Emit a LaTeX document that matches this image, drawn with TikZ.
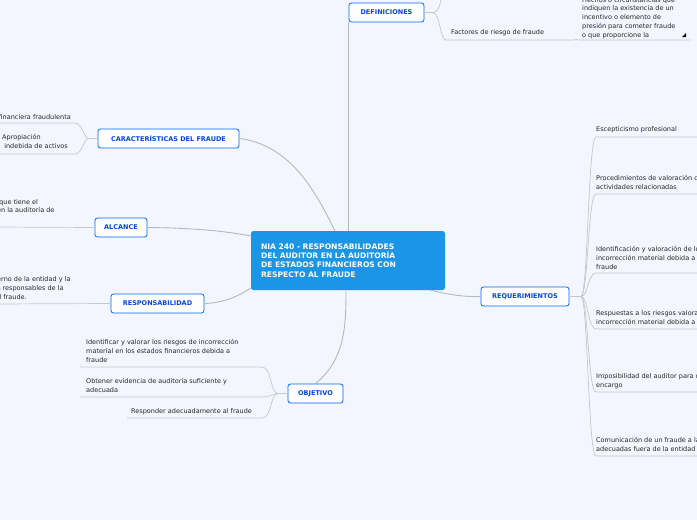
\documentclass[tikz,border=0pt]{standalone}
\usepackage{fontspec}
\setmainfont{DejaVu Sans}
\begin{document}
\begin{tikzpicture}[x=1pt,y=-1pt,
  leaf/.style={font=\fontsize{6.5}{8.8}\selectfont, align=left, inner sep=0pt, anchor=north west, text=black!85},
  br/.style={draw=blue!60!cyan, fill=white, rounded corners=2.5pt, line width=0.8pt, font=\bfseries\fontsize{6.5}{7}\selectfont, text=blue!70!cyan!90!black, inner sep=0pt, minimum height=19pt},
  ln/.style={draw=black!22, line width=0.7pt},
  con/.style={draw=black!28, line width=0.9pt}]
\definecolor{bg}{HTML}{F3F6FE}
\definecolor{cen}{HTML}{1B95E5}
\fill[bg] (0,0) rectangle (697,520);
\clip (0,0) rectangle (697,520);
% central
\node[fill=cen, rounded corners=2.5pt, minimum width=194pt, minimum height=59pt, inner sep=0pt, text=white, font=\bfseries\fontsize{7.6}{9.4}\selectfont, align=left, text width=174pt] (c) at (348,260.5) {NIA 240 - RESPONSABILIDADES\\DEL AUDITOR EN LA AUDITORÍA\\DE ESTADOS FINANCIEROS CON\\RESPECTO AL FRAUDE};
% branches
\node[br, minimum width=75pt] (def) at (386.5,12.5) {DEFINICIONES};
\node[br, minimum width=141pt] (car) at (168.5,138.5) {CARACTERÍSTICAS DEL FRAUDE};
\node[br, minimum width=52pt] (alc) at (121,227.5) {ALCANCE};
\node[br, minimum width=93pt] (res) at (157.5,303.5) {RESPONSABILIDAD};
\node[br, minimum width=55pt] (obj) at (315.5,393.5) {OBJETIVO};
\node[br, minimum width=88pt] (req) at (525,296.5) {REQUERIMIENTOS};
% connectors to center
\coordinate (ct) at (348,231);
\draw[con] (def.south -| ct) -- (ct);
\draw[con] (car.east) .. controls (290,145) and (315,190) .. (335,231);
\draw[con] (alc.east) .. controls (200,228) and (230,232) .. (251,236);
\draw[con] (res.east) .. controls (225,303) and (240,295) .. (251,288);
\draw[con] (346,290) .. controls (346,330) and (344,360) .. (obj.north);
\draw[con] (430,290) .. controls (450,295) and (465,297) .. (req.west);
% DEFINICIONES leaves
\coordinate (dj) at (433,12.5);
\draw[ln] (def.east) -- (dj);
\draw[ln] (dj) .. controls (440,12) and (440,0) .. (442,-2);
\draw[ln] (dj) .. controls (440,13) and (440,40) .. (446,40) -- (570,40);
\node[leaf] (f1) at (451,29.5) {Factores de riesgo de fraude};
\draw[ln] (570,40) -- (574,40) .. controls (577,40) and (577,38) .. (578,40) -- (690,40);
\begin{scope}
\clip (570,-5) rectangle (697,39.5);
\node[leaf] (f2) at (582,-3) {Hechos o circunstancias que\\indiquen la existencia de un\\incentivo o elemento de\\presión para cometer fraude\\o que proporcione la};
\end{scope}
\fill[black] (686,33) -- (686,37) -- (682,37) -- cycle;
% CARACTERISTICAS leaves
\coordinate (cj) at (88,138.5);
\draw[ln] (car.west) -- (cj);
\draw[ln] (-5,123) -- (75,123) .. controls (82,123) and (84,138) .. (cj);
\draw[ln] (-5,154) -- (75,154) .. controls (82,154) and (84,139) .. (cj);
\node[leaf, anchor=north east] (c1) at (71,114) {Información financiera fraudulenta};
\node[leaf, anchor=north west] (c2) at (2,134.5) {Apropiación\\\ indebida de activos};
% ALCANCE leaf
\draw[ln] (alc.west) -- (-5,227);
\node[leaf, anchor=north west] (a1) at (-3,199) {\ que tiene el\\ en la auditoría de};
% RESPONSABILIDAD leaf
\draw[ln] (res.west) -- (-5,304);
\node[leaf, anchor=north west] (r1) at (-17,276.5) {gobierno de la entidad y la\\ \ \ \ \ los responsables de la\\ \ \ \ \ del fraude.};
% OBJETIVO leaves
\coordinate (oj) at (278,393.5);
\draw[ln] (obj.west) -- (oj);
\draw[ln] (80,367) -- (262,367) .. controls (272,367) and (270,393) .. (oj);
\draw[ln] (80,397) -- (262,397) .. controls (270,397) and (272,394) .. (oj);
\draw[ln] (127,418) -- (262,418) .. controls (272,418) and (270,394) .. (oj);
\node[leaf] (o1) at (86,339.5) {Identificar y valorar los riesgos de incorrección\\material en los estados financieros debida a\\fraude};
\node[leaf] (o2) at (86,378.5) {Obtener evidencia de auditoría suficiente y\\adecuada};
\node[leaf] (o3) at (131,408.5) {Responder adecuadamente al fraude};
% REQUERIMIENTOS leaves
\coordinate (rj) at (581,296.5);
\draw[ln] (req.east) -- (rj);
\foreach \y in {137,194,273,329,392,456} {
  \draw[ln] (rj) .. controls (588,296.5) and (588,\y) .. (596,\y) -- (700,\y);
}
\node[leaf] (q1) at (596,126.5) {Escepticismo profesional};
\node[leaf] (q2) at (596,175.5) {Procedimientos de valoración del riesgo y\\actividades relacionadas};
\node[leaf] (q3) at (596,246.5) {Identificación y valoración de los riesgos de\\incorrección material debida a\\fraude};
\node[leaf] (q4) at (596,310.5) {Respuestas a los riesgos valorados de\\incorrección material debida a fraude};
\node[leaf] (q5) at (596,373.5) {Imposibilidad del auditor para continuar con el\\encargo};
\node[leaf] (q6) at (596,437.5) {Comunicación de un fraude a las autoridades\\adecuadas fuera de la entidad};
\end{tikzpicture}
\end{document}
